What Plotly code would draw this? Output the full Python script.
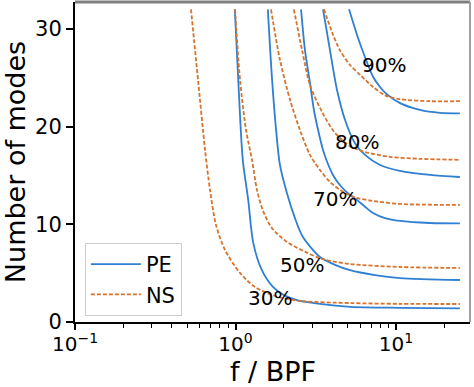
import math
import plotly.graph_objects as go

# ---- data (f / BPF, number of modes) ----
levels = ["30%", "50%", "70%", "80%", "90%"]

pe30_f = [0.99, 1.04, 1.11, 1.20, 1.29, 1.46, 1.71, 2.03, 2.42, 3.36, 5.2, 10.6, 25]
pe30_m = [32, 24.8, 16.6, 12.5, 8.1, 5.3, 3.6, 2.7, 2.25, 1.85, 1.55, 1.45, 1.4]

pe50_f = [1.59, 1.69, 1.79, 1.89, 2.09, 2.35, 2.63, 3.36, 4.17, 5.17, 7.4, 10.6, 25]
pe50_m = [32, 24.8, 19.65, 16.1, 13.2, 10.6, 8.7, 6.65, 5.85, 5.3, 4.8, 4.5, 4.3]

pe70_f = [2.56, 2.71, 2.91, 3.08, 3.27, 3.51, 3.72, 4.05, 4.48, 5.17, 5.71, 6.41, 7.19, 8.54, 10.6, 16.3, 25]
pe70_m = [32, 27.8, 24.5, 21.7, 19.65, 17.6, 16.4, 15.05, 14.0, 13.0, 12.5, 11.8, 11.16, 10.64, 10.34, 10.13, 10.1]

pe80_f = [3.51, 3.88, 4.29, 4.81, 5.55, 6.41, 7.95, 10.6, 16.3, 25]
pe80_m = [32, 27.8, 23.75, 20.7, 18.3, 17.1, 16.07, 15.46, 15.05, 14.84]

pe90_f = [5.10, 5.71, 6.41, 7.19, 7.95, 8.79, 10.6, 14.1, 18.8, 25]
pe90_m = [32, 29.4, 27.1, 25.1, 24.05, 23.3, 22.4, 21.7, 21.4, 21.35]

ns30_f = [0.528, 0.584, 0.646, 0.694, 0.756, 0.860, 1.067, 1.323, 1.762, 2.52, 5.17, 10.6, 25]
ns30_m = [32, 24.8, 17.6, 13.5, 9.93, 7.37, 5.02, 3.58, 2.66, 2.15, 1.94, 1.86, 1.84]

ns50_f = [0.993, 1.067, 1.163, 1.267, 1.361, 1.483, 1.688, 2.09, 2.71, 3.46, 5.17, 10.6, 25]
ns50_m = [32, 24.8, 19.65, 16.6, 13.5, 11.4, 9.6, 8.2, 7.2, 6.45, 5.94, 5.63, 5.53]

ns70_f = [1.664, 1.894, 2.19, 2.52, 2.91, 3.36, 3.88, 4.81, 5.71, 7.09, 10.6, 25]
ns70_m = [32, 26.8, 22.7, 19.65, 17.1, 15.56, 14.33, 13.2, 12.7, 12.4, 12.08, 11.98]

ns80_f = [2.31, 2.60, 2.91, 3.46, 4.17, 5.17, 6.41, 9.18, 14.1, 25]
ns80_m = [32, 27.8, 24.26, 21.5, 19.34, 18.0, 17.4, 16.9, 16.7, 16.6]

ns90_f = [3.56, 4.05, 4.48, 5.17, 5.97, 7.19, 8.54, 10.6, 16.3, 25]
ns90_m = [32, 29.4, 27.8, 26.3, 25.3, 24.05, 23.2, 22.8, 22.6, 22.6]

label_f = [1.64, 2.6, 4.17, 5.71, 8.42]
label_m = [2.45, 5.8, 12.6, 18.4, 26.3]

x_tickvals = [0.1, 1, 10]
x_ticktext = ["10<sup>\u22121</sup>", "10<sup>0</sup>", "10<sup>1</sup>"]
y_tickvals = [0, 10, 20, 30]

BLUE = "#2f7fd2"
ORANGE = "#d8732c"
FONT = "DejaVu Sans"

pe_curves = [(pe30_f, pe30_m), (pe50_f, pe50_m), (pe70_f, pe70_m), (pe80_f, pe80_m), (pe90_f, pe90_m)]
ns_curves = [(ns30_f, ns30_m), (ns50_f, ns50_m), (ns70_f, ns70_m), (ns80_f, ns80_m), (ns90_f, ns90_m)]

fig = go.Figure()
for i, (fx, my) in enumerate(pe_curves):
    fig.add_trace(go.Scatter(x=fx, y=my, mode="lines", name="PE", legendgroup="PE",
                             showlegend=(i == 0),
                             line=dict(color=BLUE, width=1.8, shape="spline", smoothing=0.8)))
for i, (fx, my) in enumerate(ns_curves):
    fig.add_trace(go.Scatter(x=fx, y=my, mode="lines", name="NS", legendgroup="NS",
                             showlegend=(i == 0),
                             line=dict(color=ORANGE, width=1.8, dash="4px,2px", shape="spline", smoothing=0.8)))

# contour level labels (log axis: annotation x is given in log10 units)
for lv, lf, lm in zip(levels, label_f, label_m):
    fig.add_annotation(x=math.log10(lf), y=lm, xref="x", yref="y", text=lv, showarrow=False,
                       font=dict(family=FONT, size=20, color="black"))

# x-axis title placed as an annotation under the tick labels
fig.add_annotation(x=0.5, y=0, xref="paper", yref="paper", yanchor="top", yshift=-33,
                   text="f / BPF", showarrow=False, borderpad=0,
                   font=dict(family=FONT, size=27, color="black"))

fig.update_layout(
    width=474, height=387,
    margin=dict(l=75, r=4, t=2, b=65, autoexpand=False),
    paper_bgcolor="white", plot_bgcolor="white",
    font=dict(family=FONT, color="black"),
    showlegend=True,
    legend=dict(x=0.025, y=0.247, xanchor="left", yanchor="top",
                bgcolor="rgba(255,255,255,0.9)", bordercolor="#cccccc", borderwidth=1,
                font=dict(family=FONT, size=21, color="black"),
                itemwidth=50, tracegroupgap=0),
    shapes=[
        dict(type="line", xref="paper", yref="paper", x0=0, x1=1, y0=1, y1=1,
             line=dict(color="#808080", width=3)),
        dict(type="line", xref="paper", yref="paper", x0=1, x1=1, y0=0, y1=1,
             line=dict(color="#a0a0a0", width=2)),
    ],
)

fig.update_xaxes(
    type="log", range=[-1, 1.461], automargin=False,
    tickvals=x_tickvals, ticktext=x_ticktext,
    ticks="outside", ticklen=6, tickwidth=1.5, tickcolor="black",
    minor=dict(ticks="outside", ticklen=4, tickwidth=1, tickcolor="black", dtick="D1", showgrid=False),
    showline=True, linecolor="black", linewidth=2,
    showgrid=False, zeroline=False,
    ticklabelstandoff=-3,
    tickfont=dict(family=FONT, size=20, color="black"),
)
fig.update_yaxes(
    range=[0, 32.75], automargin=False,
    tickvals=y_tickvals,
    ticks="outside", ticklen=7, tickwidth=1.5, tickcolor="black",
    showline=True, linecolor="black", linewidth=2,
    showgrid=False, zeroline=False,
    tickfont=dict(family=FONT, size=21, color="black"),
    title=dict(text="Number of modes", font=dict(family=FONT, size=27, color="black"), standoff=8),
)

fig.write_html("out.html", config={"displayModeBar": False},
               post_script="document.body.style.margin='0px';document.body.style.overflow='hidden';")
